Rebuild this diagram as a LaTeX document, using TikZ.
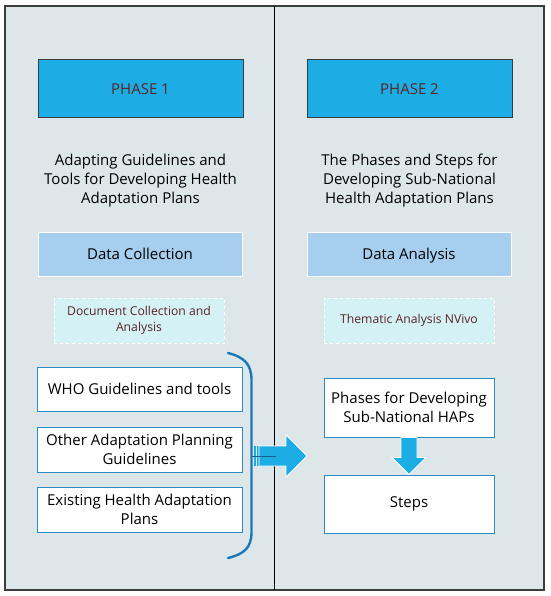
\documentclass[tikz,border=0pt]{standalone}
\usepackage{fontspec}
\setmainfont{Open Sans}
\usetikzlibrary{calc}
\definecolor{panelbg}{HTML}{DDE7E9}
\definecolor{phaseblue}{HTML}{1CADE4}
\definecolor{lightblue}{HTML}{A6CEEE}
\definecolor{paleteal}{HTML}{D4F1F5}
\definecolor{boxblue}{HTML}{2B8CC4}
\definecolor{bracketblue}{HTML}{1A78B8}
\definecolor{brownred}{HTML}{5A2424}
\definecolor{framegray}{HTML}{3C3C3C}
\tikzset{
  phasebox/.style={draw=framegray, line width=1pt, fill=phaseblue, minimum width=205pt, minimum height=58pt, inner sep=0pt, text height=12pt, text depth=1.3pt, text=brownred, font=\fontsize{15}{18}\selectfont},
  titletext/.style={align=center, text=black, font=\fontsize{15}{19}\selectfont},
  databox/.style={draw=white, line width=1pt, fill=lightblue, minimum width=204pt, minimum height=44pt, inner sep=0pt, text height=12pt, text depth=1.3pt, text=black, font=\fontsize{15}{18}\selectfont},
  dashbox/.style={draw=white, dashed, line width=1pt, fill=paleteal, minimum width=170pt, minimum height=45pt, inner sep=0pt, align=center, text=brownred, font=\fontsize{12.2}{16}\selectfont},
  itembox/.style={draw=boxblue, line width=1pt, fill=white, minimum width=205pt, inner sep=0pt, align=center, text=black, font=\fontsize{15}{19.5}\selectfont},
  flowbox/.style={draw=boxblue, line width=1pt, fill=white, minimum width=170pt, inner sep=0pt, align=center, text=black, font=\fontsize{15}{19.5}\selectfont},
  blockarrow/.style={fill=phaseblue, draw=white, line width=0.8pt},
}
\begin{document}
\begin{tikzpicture}[x=1pt, y=-1pt]
\useasboundingbox (0,0) rectangle (550,596);
% panels
\draw[fill=panelbg, draw=framegray, line width=1.2pt] (5,6) rectangle (544,590);
\draw[black, line width=0.8pt] (274,6) -- (274,590);

% phase boxes
\node[phasebox] (p1) at (140.5,89) {PHASE 1};
\node[phasebox] (p2) at (409.5,89) {PHASE 2};

% titles
\node[titletext] (t1) at (140.5,181) {Adapting Guidelines and\\Tools for Developing Health\\Adaptation Plans};
\node[titletext] (t2) at (409.5,181) {The Phases and Steps for\\Developing Sub-National\\Health Adaptation Plans};

% data boxes
\node[databox] (dc) at (140,254) {Data Collection};
\node[databox] (da) at (409,254) {Data Analysis};

% dashed boxes
\node[dashbox] (doc) at (139,320.5) {Document Collection and\\Analysis};
\node[dashbox] (them) at (409,320.5) {Thematic Analysis NVivo};

% left items
\node[itembox, minimum height=44pt] (who) at (139.5,389) {WHO Guidelines and tools};
\node[itembox, minimum height=45pt] (other) at (139.5,449.5) {Other Adaptation Planning\\Guidelines};
\node[itembox, minimum height=45pt] (exist) at (139.5,509.5) {Existing Health Adaptation\\Plans};

% right flow
\node[flowbox, minimum height=59pt] (phs) at (409,407.5) {Phases for Developing\\Sub-National HAPs};
\node[flowbox, minimum height=58pt] (steps) at (409,504) {Steps};

% bracket
\coordinate (btop) at (228,353);
\coordinate (bbot) at (228,558);
\coordinate (bmid) at (251.5,456);
\draw[bracketblue, line width=2.4pt, line cap=round]
  (btop) .. controls (244,357) and (251.5,364) .. (251.5,380)
  -- (251.5,532) .. controls (251.5,548) and (244,554) .. (bbot);

% right block arrow (striped start)
\coordinate (atip) at (307,456);
\fill[phaseblue] (254,446) rectangle (256,466);
\fill[phaseblue] (257,446) rectangle (258.5,466);
\draw[blockarrow] (259,446) -- (286,446) -- (286,435) -- (atip) -- (286,477) -- (286,466) -- (259,466) -- cycle;
\draw[bracketblue!80!black, line width=1pt] (bmid) -- (276,456);

% down block arrow
\draw[blockarrow] ($(phs.south)+(-8,0)$) -- ($(phs.south)+(8,0)$) -- ($(phs.south)+(8,20)$) -- ($(phs.south)+(17,20)$) -- (steps.north) -- ($(phs.south)+(-17,20)$) -- ($(phs.south)+(-8,20)$) -- cycle;
\end{tikzpicture}
\end{document}
